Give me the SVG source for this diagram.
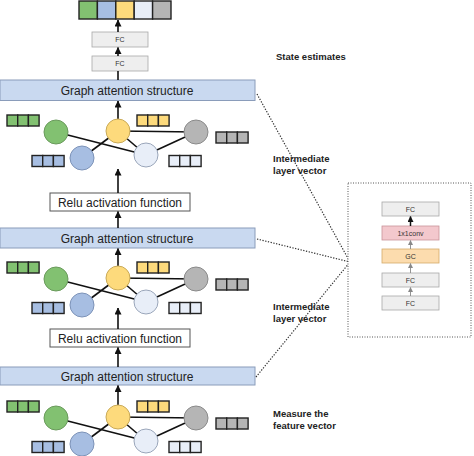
<svg xmlns="http://www.w3.org/2000/svg" width="474" height="456" viewBox="0 0 474 456">
<defs>
<marker id="ah" markerWidth="7" markerHeight="7" refX="6.5" refY="3.5" orient="auto" markerUnits="userSpaceOnUse"><path d="M0,0 L7,3.5 L0,7 z" fill="#111"/></marker>
<marker id="ahs" markerWidth="5" markerHeight="5" refX="4.5" refY="2.5" orient="auto" markerUnits="userSpaceOnUse"><path d="M0,0 L5,2.5 L0,5 z" fill="#888"/></marker>
<marker id="ahb" markerWidth="6" markerHeight="6" refX="5.5" refY="3" orient="auto" markerUnits="userSpaceOnUse"><path d="M0,0 L6,3 L0,6 z" fill="#111"/></marker>
</defs>
<style>
.bar{fill:#c9d9f0;stroke:#8a9cba;stroke-width:1}
.bt{font-family:"Liberation Sans",Arial,sans-serif;font-size:12px;fill:#222;text-anchor:middle}
.relu{fill:#fff;stroke:#555;stroke-width:1}
.lbl{font-family:"Liberation Sans",Arial,sans-serif;font-size:9.5px;font-weight:bold;fill:#222}
.fc{fill:#eeeeee;stroke:#a8a8a8;stroke-width:0.8}
.st{font-family:"Liberation Sans",Arial,sans-serif;font-size:7px;fill:#333;text-anchor:middle}
.edge{stroke:#111;stroke-width:1.6;fill:none}
.arr{stroke:#111;stroke-width:1.6;fill:none}
.cell{stroke:#222;stroke-width:1.4}
.dot{stroke:#333;stroke-width:1.2;stroke-dasharray:1.3 1.5;fill:none}
.g{fill:#82c171}.b{fill:#a7bee2}.y{fill:#fdda7c}.l{fill:#e8eef8}.k{fill:#b5b5b5}
.gc{fill:#82c171;stroke:#6a9a5c;stroke-width:1}
.bc{fill:#a7bee2;stroke:#7d93b8;stroke-width:1}
.yc{fill:#fdda7c;stroke:#c9aa58;stroke-width:1}
.lc{fill:#e8eef8;stroke:#9aa6ba;stroke-width:1}
.kc{fill:#b5b5b5;stroke:#8a8a8a;stroke-width:1}
</style>

<!-- output vector -->
<g id="output-vector">
<rect class="cell g" x="79" y="1" width="18.4" height="18"/>
<rect class="cell b" x="97.4" y="1" width="18.4" height="18"/>
<rect class="cell y" x="115.8" y="1" width="18.4" height="18"/>
<rect class="cell l" x="134.2" y="1" width="18.4" height="18"/>
<rect class="cell k" x="152.6" y="1" width="18.4" height="18"/>
</g>
<g id="fc-top1"><rect class="fc" x="92" y="32" width="56" height="15"/><text class="st" x="120" y="42">FC</text></g>
<g id="fc-top2"><rect class="fc" x="92" y="56" width="56" height="15"/><text class="st" x="120" y="66">FC</text></g>

<g id="gas1"><rect class="bar" x="0" y="80" width="255" height="20.5"/><text class="bt" x="127" y="95">Graph attention structure</text></g>
<g id="relu1"><rect class="relu" x="50" y="193" width="140" height="18"/><text class="bt" x="120" y="206.5">Relu activation function</text></g>
<g id="gas2"><rect class="bar" x="0" y="228" width="255" height="20"/><text class="bt" x="127" y="242.5">Graph attention structure</text></g>
<g id="relu2"><rect class="relu" x="50" y="329" width="140" height="18"/><text class="bt" x="120" y="342.5">Relu activation function</text></g>
<g id="gas3"><rect class="bar" x="0" y="367" width="255" height="18"/><text class="bt" x="127" y="380.5">Graph attention structure</text></g>

<!-- connectors -->
<g id="connectors">
<line class="arr" x1="118" y1="32" x2="118" y2="20" marker-end="url(#ah)"/>
<line class="arr" x1="118" y1="56" x2="118" y2="47.5" marker-end="url(#ah)"/>
<line class="arr" x1="118" y1="80" x2="118" y2="71"/>
<line class="arr" x1="118" y1="119" x2="118" y2="101" marker-end="url(#ah)"/>
<line class="arr" x1="118" y1="193" x2="118" y2="169" marker-end="url(#ah)"/>
<line class="arr" x1="118" y1="228" x2="118" y2="211.5" marker-end="url(#ah)"/>
<line class="arr" x1="118" y1="266" x2="118" y2="248.5" marker-end="url(#ah)"/>
<line class="arr" x1="118" y1="329" x2="118" y2="308" marker-end="url(#ah)"/>
<line class="arr" x1="118" y1="367" x2="118" y2="347.5" marker-end="url(#ah)"/>
<line class="arr" x1="118" y1="405" x2="118" y2="385.5" marker-end="url(#ah)"/>
<line class="dot" x1="257" y1="94" x2="350" y2="262"/>
<line class="dot" x1="257" y1="239" x2="350" y2="262"/>
<line class="dot" x1="256" y1="377" x2="350" y2="262"/>
</g>

<!-- graph 1 -->
<g id="graph1">
<g id="graph1-edges">
<line class="edge" x1="56" y1="132" x2="146" y2="155"/>
<line class="edge" x1="82" y1="158" x2="118" y2="131"/>
<line class="edge" x1="118" y1="131" x2="196" y2="132"/>
<line class="edge" x1="118" y1="131" x2="146" y2="155"/>
<line class="edge" x1="146" y1="155" x2="196" y2="132"/>
</g>
<g id="g1-green"><circle class="gc" cx="56" cy="132" r="12"/><rect class="cell g" x="7" y="115" width="10.7" height="11"/><rect class="cell g" x="17.7" y="115" width="10.7" height="11"/><rect class="cell g" x="28.4" y="115" width="10.7" height="11"/></g>
<g id="g1-yellow"><circle class="yc" cx="118" cy="131" r="12"/><rect class="cell y" x="137" y="115" width="10.7" height="11"/><rect class="cell y" x="147.7" y="115" width="10.7" height="11"/><rect class="cell y" x="158.4" y="115" width="10.7" height="11"/></g>
<g id="g1-gray"><circle class="kc" cx="196" cy="132" r="12"/><rect class="cell k" x="216" y="132" width="10.7" height="11"/><rect class="cell k" x="226.7" y="132" width="10.7" height="11"/><rect class="cell k" x="237.4" y="132" width="10.7" height="11"/></g>
<g id="g1-blue"><circle class="bc" cx="82" cy="158" r="12"/><rect class="cell b" x="32" y="155.5" width="10.7" height="11"/><rect class="cell b" x="42.7" y="155.5" width="10.7" height="11"/><rect class="cell b" x="53.4" y="155.5" width="10.7" height="11"/></g>
<g id="g1-light"><circle class="lc" cx="146" cy="155" r="12"/><rect class="cell l" x="169" y="155.5" width="10.7" height="11"/><rect class="cell l" x="179.7" y="155.5" width="10.7" height="11"/><rect class="cell l" x="190.4" y="155.5" width="10.7" height="11"/></g>
</g>

<!-- graph 2 -->
<g id="graph2" transform="translate(0,147)">
<g id="graph2-edges">
<line class="edge" x1="56" y1="132" x2="146" y2="155"/>
<line class="edge" x1="82" y1="158" x2="118" y2="131"/>
<line class="edge" x1="118" y1="131" x2="196" y2="132"/>
<line class="edge" x1="118" y1="131" x2="146" y2="155"/>
<line class="edge" x1="146" y1="155" x2="196" y2="132"/>
</g>
<g id="g2-green"><circle class="gc" cx="56" cy="132" r="12"/><rect class="cell g" x="7" y="115" width="10.7" height="11"/><rect class="cell g" x="17.7" y="115" width="10.7" height="11"/><rect class="cell g" x="28.4" y="115" width="10.7" height="11"/></g>
<g id="g2-yellow"><circle class="yc" cx="118" cy="131" r="12"/><rect class="cell y" x="137" y="115" width="10.7" height="11"/><rect class="cell y" x="147.7" y="115" width="10.7" height="11"/><rect class="cell y" x="158.4" y="115" width="10.7" height="11"/></g>
<g id="g2-gray"><circle class="kc" cx="196" cy="132" r="12"/><rect class="cell k" x="216" y="132" width="10.7" height="11"/><rect class="cell k" x="226.7" y="132" width="10.7" height="11"/><rect class="cell k" x="237.4" y="132" width="10.7" height="11"/></g>
<g id="g2-blue"><circle class="bc" cx="82" cy="158" r="12"/><rect class="cell b" x="32" y="155.5" width="10.7" height="11"/><rect class="cell b" x="42.7" y="155.5" width="10.7" height="11"/><rect class="cell b" x="53.4" y="155.5" width="10.7" height="11"/></g>
<g id="g2-light"><circle class="lc" cx="146" cy="155" r="12"/><rect class="cell l" x="169" y="155.5" width="10.7" height="11"/><rect class="cell l" x="179.7" y="155.5" width="10.7" height="11"/><rect class="cell l" x="190.4" y="155.5" width="10.7" height="11"/></g>
</g>

<!-- graph 3 -->
<g id="graph3" transform="translate(0,286)">
<g id="graph3-edges">
<line class="edge" x1="56" y1="132" x2="146" y2="155"/>
<line class="edge" x1="82" y1="158" x2="118" y2="131"/>
<line class="edge" x1="118" y1="131" x2="196" y2="132"/>
<line class="edge" x1="118" y1="131" x2="146" y2="155"/>
<line class="edge" x1="146" y1="155" x2="196" y2="132"/>
</g>
<g id="g3-green"><circle class="gc" cx="56" cy="132" r="12"/><rect class="cell g" x="7" y="115" width="10.7" height="11"/><rect class="cell g" x="17.7" y="115" width="10.7" height="11"/><rect class="cell g" x="28.4" y="115" width="10.7" height="11"/></g>
<g id="g3-yellow"><circle class="yc" cx="118" cy="131" r="12"/><rect class="cell y" x="137" y="115" width="10.7" height="11"/><rect class="cell y" x="147.7" y="115" width="10.7" height="11"/><rect class="cell y" x="158.4" y="115" width="10.7" height="11"/></g>
<g id="g3-gray"><circle class="kc" cx="196" cy="132" r="12"/><rect class="cell k" x="216" y="132" width="10.7" height="11"/><rect class="cell k" x="226.7" y="132" width="10.7" height="11"/><rect class="cell k" x="237.4" y="132" width="10.7" height="11"/></g>
<g id="g3-blue"><circle class="bc" cx="82" cy="158" r="12"/><rect class="cell b" x="32" y="155.5" width="10.7" height="11"/><rect class="cell b" x="42.7" y="155.5" width="10.7" height="11"/><rect class="cell b" x="53.4" y="155.5" width="10.7" height="11"/></g>
<g id="g3-light"><circle class="lc" cx="146" cy="155" r="12"/><rect class="cell l" x="169" y="155.5" width="10.7" height="11"/><rect class="cell l" x="179.7" y="155.5" width="10.7" height="11"/><rect class="cell l" x="190.4" y="155.5" width="10.7" height="11"/></g>
</g>

<!-- labels -->
<g id="labels">
<text class="lbl" x="276" y="60">State estimates</text>
<text class="lbl" x="273" y="162">Intermediate</text>
<text class="lbl" x="273" y="173.5">layer vector</text>
<text class="lbl" x="273" y="310">Intermediate</text>
<text class="lbl" x="273" y="321.5">layer vector</text>
<text class="lbl" x="273" y="417">Measure the</text>
<text class="lbl" x="273" y="428.5">feature vector</text>
</g>

<!-- detail box -->
<g id="detail">
<rect x="348" y="183" width="123" height="154" fill="#fff" stroke="#555" stroke-width="1" stroke-dasharray="1 1.5"/>
<g id="d-fc3"><rect class="fc" x="382" y="202" width="57" height="14"/><text class="st" x="410.5" y="211.5">FC</text></g>
<g id="d-conv"><rect x="382" y="226" width="57" height="14" fill="#f3c8cd" stroke="#c9939a" stroke-width="0.8"/><text class="st" x="410.5" y="235.5">1x1conv</text></g>
<g id="d-gc"><rect x="382" y="249" width="57" height="14" fill="#fcdcae" stroke="#d5ab6a" stroke-width="0.8"/><text class="st" x="410.5" y="258.5">GC</text></g>
<g id="d-fc2"><rect class="fc" x="382" y="273" width="57" height="14"/><text class="st" x="410.5" y="282.5">FC</text></g>
<g id="d-fc1"><rect class="fc" x="382" y="296" width="57" height="14"/><text class="st" x="410.5" y="305.5">FC</text></g>
<g id="d-connectors">
<line x1="410.5" y1="226" x2="410.5" y2="216.5" stroke="#111" stroke-width="1.5" marker-end="url(#ahb)"/>
<line x1="410.5" y1="249" x2="410.5" y2="240.5" stroke="#888" stroke-width="0.9" marker-end="url(#ahs)"/>
<line x1="410.5" y1="273" x2="410.5" y2="263.5" stroke="#888" stroke-width="0.9" marker-end="url(#ahs)"/>
<line x1="410.5" y1="296" x2="410.5" y2="287.5" stroke="#888" stroke-width="0.9" marker-end="url(#ahs)"/>
</g>
</g>
</svg>
